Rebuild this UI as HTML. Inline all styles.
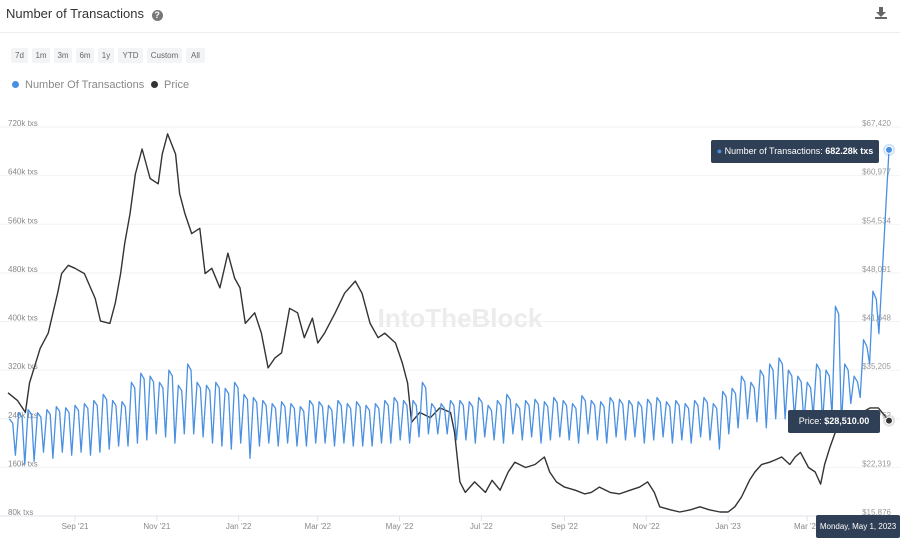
<!DOCTYPE html>
<html><head><meta charset="utf-8"><style>
body{margin:0;width:900px;height:542px;background:#fff;font-family:"Liberation Sans",sans-serif;overflow:hidden;position:relative}
.t{position:absolute}
.btn{position:absolute;top:48px;height:15px;background:#f3f4f6;color:#666;font-size:8px;line-height:15px;text-align:center;border-radius:2px}
</style></head><body>
<div class="t" style="left:6px;top:6px;font-size:13px;color:#333">Number of Transactions <span style="display:inline-block;width:11px;height:11px;border-radius:50%;background:#777;color:#fff;font-size:9px;line-height:11px;text-align:center;font-weight:bold;margin-left:4px">?</span></div>
<svg class="t" style="left:874px;top:6px" width="14" height="14"><path d="M5 1h4v5h3l-5 5-5-5h3z M1 11v2h12v-2" fill="#666"/></svg>
<div class="t" style="left:0;top:32px;width:900px;height:1px;background:#eee"></div>
<div class="btn" style="left:11px;width:17px">7d</div>
<div class="btn" style="left:32px;width:18px">1m</div>
<div class="btn" style="left:54px;width:18px">3m</div>
<div class="btn" style="left:76px;width:18px">6m</div>
<div class="btn" style="left:98px;width:16px">1y</div>
<div class="btn" style="left:118px;width:25px">YTD</div>
<div class="btn" style="left:147px;width:35px">Custom</div>
<div class="btn" style="left:186px;width:19px">All</div>
<div class="t" style="left:12px;top:79px;font-size:11px;color:#888"><span style="display:inline-block;width:7px;height:7px;border-radius:50%;background:#4a90e2;margin-right:6px"></span>Number Of Transactions</div>
<div class="t" style="left:151px;top:79px;font-size:11px;color:#888"><span style="display:inline-block;width:7px;height:7px;border-radius:50%;background:#333;margin-right:6px"></span>Price</div>
<svg id="chart" class="t" style="left:0;top:0" width="900" height="542"></svg>
<script>
const txPeaks=[240,250,255,250,255,260,258,262,265,270,280,270,268,300,315,310,300,320,295,330,300,295,300,290,300,280,275,270,265,268,265,260,270,268,262,270,265,268,262,265,270,275,270,270,300,265,265,270,270,268,275,262,270,280,265,270,272,268,275,270,265,278,270,268,275,272,270,268,272,275,268,270,265,270,275,265,285,290,310,300,320,330,340,320,310,300,330,320,425,330,310,370,450];
const txTroughs=[180,165,170,185,175,185,180,185,180,185,190,195,195,200,205,215,210,200,215,215,210,200,195,190,200,175,195,200,195,200,195,195,200,200,195,200,195,195,195,200,200,205,200,210,215,215,215,205,205,200,210,205,200,215,205,210,200,205,210,205,200,215,205,200,210,205,210,200,205,210,200,205,200,210,205,190,215,225,240,235,225,240,240,240,235,245,235,245,230,265,275,330,380];
const txLast=682.28;
const priceDays=[0,7,13,16,24,30,37,40,45,50,57,65,69,76,80,84,87,91,95,100,106,112,115,119,125,128,132,137,143,147,152,158,164,169,173,177,184,189,194,199,204,210,216,221,227,231,236,244,251,259,264,270,276,281,289,294,298,301,307,315,322,330,333,337,341,348,356,361,367,373,378,386,393,400,404,409,415,423,430,435,441,449,456,464,471,477,482,486,494,501,509,516,523,531,537,542,547,553,557,562,568,572,577,583,587,591,597,602,606,609,613,617,620,626,632,637,643,649,657];
const priceK=[32.2,31.2,29.6,33.5,38.1,40.1,45.4,48.0,49.1,48.7,48.0,44.7,41.7,41.4,44.1,48.0,52.0,55.9,61.2,64.5,60.6,59.9,63.8,66.5,63.8,58.6,55.9,53.3,54.0,48.0,48.7,46.1,50.7,47.4,46.1,41.4,42.8,40.1,35.5,36.8,37.5,43.4,42.8,39.5,42.1,38.8,40.1,42.8,45.4,47.0,45.4,41.4,39.5,40.1,38.8,36.2,33.5,28.3,29.6,28.9,30.2,29.6,27.0,20.4,19.0,20.4,19.0,20.6,19.3,21.7,23.0,22.3,22.7,23.7,21.7,20.4,19.7,19.3,18.8,19.0,19.7,19.0,18.8,19.3,19.7,20.4,19.0,17.1,16.7,16.4,16.7,17.1,16.7,16.4,16.4,17.1,18.4,20.6,21.7,22.7,23.0,23.3,23.7,22.7,23.7,24.3,22.3,21.7,20.1,22.7,25.0,27.0,28.5,29.3,29.8,29.6,30.2,30.2,28.51];
const leftTicks=["720k txs","640k txs","560k txs","480k txs","400k txs","320k txs","240k txs","160k txs","80k txs"];
const rightTicks=["$67,420","$60,977","$54,534","$48,091","$41,648","$35,205","$28,762","$22,319","$15,876"];
const xLabels=["Sep '21","Nov '21","Jan '22","Mar '22","May '22","Jul '22","Sep '22","Nov '22","Jan '23","Mar '23"];
const xLabelDays=[50,111,172,231,292,353,415,476,537,596];

const NS="http://www.w3.org/2000/svg",svg=document.getElementById('chart');
const TOP=127,BOT=516;
const xs=d=>8+d*(881/657);
const yTx=v=>BOT-(v-80)/640*(BOT-TOP);
const yP=v=>BOT-(v-15.876)/51.544*(BOT-TOP);
function mk(tag,attrs,parent){const e=document.createElementNS(NS,tag);for(const k in attrs)e.setAttribute(k,attrs[k]);(parent||svg).appendChild(e);return e;}
leftTicks.forEach((t,i)=>{const y=TOP+i*(BOT-TOP)/8;
 const g=mk('line',{x1:0,x2:900,y1:y,y2:y,stroke:i==8?'#e0e3e8':'#f1f2f4','stroke-width':1});
 
 
 const a=mk('text',{x:8,y:y-1,'font-size':8,fill:'#888'});a.textContent=t;
 
 
 const b=mk('text',{x:891,y:y-1,'font-size':8,fill:'#999','text-anchor':'end'});b.textContent=rightTicks[i];
 
 
});
xLabels.forEach((t,i)=>{const x=xs(xLabelDays[i]);
 mk('line',{x1:x,x2:x,y1:BOT,y2:BOT+5,stroke:'#e0e3e8'});
 const e=mk('text',{x:x,y:529,'font-size':8,fill:'#888','text-anchor':'middle'});e.textContent=t;
 
 
});
const wm=mk('text',{x:460,y:327,'font-size':26,'font-weight':'bold',fill:'#ececec','text-anchor':'middle'});wm.textContent='IntoTheBlock';


let pd='';priceDays.forEach((d,i)=>{pd+=(i?'L':'M')+xs(d).toFixed(1)+' '+yP(priceK[i]).toFixed(1);});
const pl=mk('path',{d:pd,fill:'none',stroke:'#333','stroke-width':1.4,'stroke-linejoin':'round'});


let td='';txPeaks.forEach((p,i)=>{const b=7*i;
 td+=(i?'L':'M')+xs(b+1).toFixed(1)+' '+yTx(p).toFixed(1);
 td+='L'+xs(b+3.5).toFixed(1)+' '+yTx(p*0.97).toFixed(1);
 td+='L'+xs(b+5.5).toFixed(1)+' '+yTx(txTroughs[i]).toFixed(1);});
td+='L'+xs(657).toFixed(1)+' '+yTx(txLast).toFixed(1);
const tl=mk('path',{d:td,fill:'none',stroke:'#4a90e2','stroke-width':1.3,'stroke-linejoin':'round'});


const m1h=mk('circle',{cx:xs(657),cy:yTx(txLast),r:6,fill:'#4a90e2','fill-opacity':0.25});


const m1=mk('circle',{cx:xs(657),cy:yTx(txLast),r:3.5,fill:'#4a90e2',stroke:'#fff','stroke-width':1});


const m2h=mk('circle',{cx:xs(657),cy:yP(28.51),r:6,fill:'#999','fill-opacity':0.3});


const m2=mk('circle',{cx:xs(657),cy:yP(28.51),r:3.5,fill:'#333',stroke:'#fff','stroke-width':1});


</script>
<div class="t" style="left:711px;top:140px;width:168px;height:23px;background:#2f3f55;color:#fff;font-size:9px;line-height:23px;border-radius:2px;text-align:center"><span style="color:#4a90e2">●</span> Number of Transactions: <b>682.28k txs</b></div>
<div class="t" style="left:788px;top:410px;width:92px;height:23px;background:#2f3f55;color:#fff;font-size:9px;line-height:23px;border-radius:2px;text-align:center">Price: <b>$28,510.00</b></div>
<div class="t" style="left:816px;top:515px;width:84px;height:23px;background:#2f3f55;color:#fff;font-size:8px;line-height:23px;border-radius:2px;text-align:center">Monday, May 1, 2023</div>
</body></html>
